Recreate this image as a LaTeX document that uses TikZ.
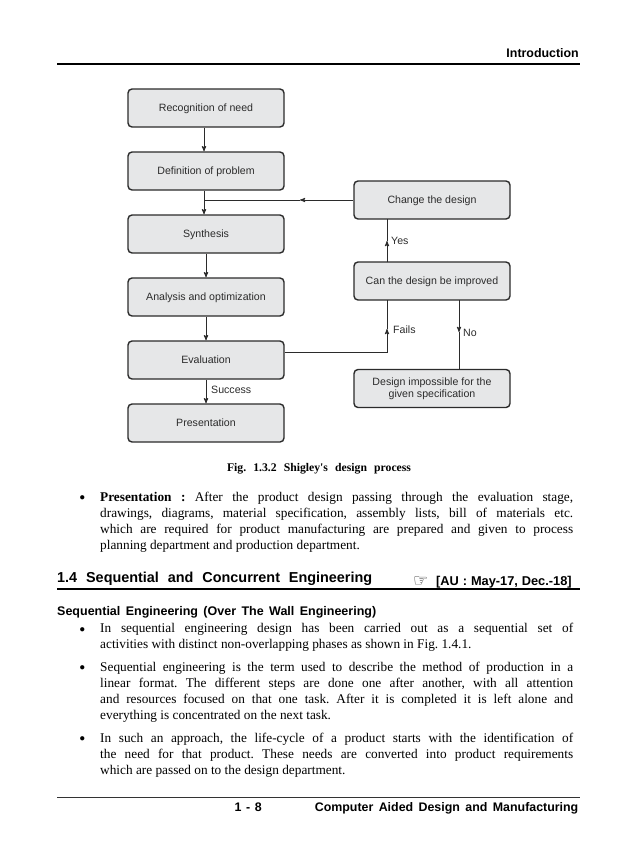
\documentclass[tikz,border=0pt]{standalone}
\usepackage{fontspec}
\setmainfont{Liberation Serif}
\setsansfont{Liberation Sans}
\newfontfamily\symfont{DejaVu Sans}
\usetikzlibrary{arrows}
\definecolor{boxfill}{HTML}{E6E7E8}
\definecolor{ink}{HTML}{2B2B2B}
\newcommand{\jline}[2]{\makebox[#1pt][s]{#2}}
\frenchspacing

\begin{document}
\begin{tikzpicture}[x=1pt,y=-1pt,node distance=63pt,>=stealth']
  \tikzstyle{block}=[rectangle,rounded corners=4pt,line width=1.4pt,draw=ink,fill=boxfill,
  		     text=ink,minimum width=156pt,minimum height=38pt,inner sep=0pt,
  		     font=\sffamily\fontsize{10.6}{12.4}\selectfont,align=center]
  \tikzstyle{one}=[block,text height=6pt,text depth=0pt]
  \tikzstyle{link}=[line width=0.9pt,draw=ink,>=stealth']
  \tikzstyle{tag}=[text=ink,inner sep=0pt,font=\sffamily\fontsize{10.6}{12}\selectfont]
  \tikzstyle{body}=[anchor=base west,inner sep=0pt,font=\fontsize{13.3}{16}\selectfont]
  \tikzstyle{dot}=[anchor=base west,inner sep=0pt,font=\fontsize{10.5}{12}\selectfont]
  \tikzstyle{head}=[anchor=base west,inner sep=0pt,font=\sffamily\bfseries\fontsize{12.4}{14}\selectfont]
  \tikzstyle{rule}=[line width=1.1pt,black]
  \useasboundingbox (0,0) rectangle (638,854);
  % page header
  \node [head,anchor=base east] (header) at (579,57) {Introduction};
  \coordinate (headl) at (57,64);
  \coordinate (headr) at (580,64);
  \draw [rule] (headl) -- (headr);
  % left column
  \node [one] (need) at (206,108) {Recognition of need};
  \node [one] (problem) [below of=need] {Definition of problem};
  \node [one] (synth) [below of=problem] {Synthesis};
  \node [one] (analysis) [below of=synth] {Analysis and optimization};
  \node [one] (eval) [below of=analysis] {Evaluation};
  \node [one] (present) [below of=eval] {Presentation};
  % right column
  \node [one] (change) at (432,200) {Change the design};
  \node [one] (improve) at (432,281) {Can the design be improved};
  \node [block] (imposs) at (432,388.5) {Design impossible for the\\given specification};
  % connectors
  \draw [link,->] ([xshift=-2pt]need.south) -- ([xshift=-2pt]problem.north);
  \draw [link,->] ([xshift=-2pt]problem.south) -- ([xshift=-2pt]synth.north);
  \draw [link,->] (synth) -- (analysis);
  \draw [link,->] (analysis) -- (eval);
  \draw [link,->] (eval) -- (present);
  \coordinate (joint) at (204,200);
  \coordinate (cmid) at (300,200);
  \draw [link,->] (change.west) -- (cmid);
  \draw [link] (cmid) -- (joint);
  \coordinate (ymid) at (387,241);
  \draw [link,->] (387,262) -- (ymid);
  \draw [link] (ymid) -- (387,219);
  \coordinate (fbend) at (387,352.5);
  \coordinate (fmid) at (387,329);
  \draw [link,->] (eval.east |- fbend) -- (fbend) -- (fmid);
  \draw [link] (fmid) -- (387,300);
  \coordinate (nmid) at (459,332);
  \draw [link,->] (459,300) -- (nmid);
  \draw [link] (nmid) -- (459,369);
  % labels
  \node [tag,anchor=west] (yes) at (391,241) {Yes};
  \node [tag,anchor=west] (fails) at (393,330) {Fails};
  \node [tag,anchor=west] (no) at (463,333) {No};
  \node [tag,anchor=west] (success) at (211,389.5) {Success};
  \node [body,anchor=base,font=\bfseries\fontsize{11.7}{14}\selectfont] (caption) at (319,471) {\jline{184}{Fig. 1.3.2 Shigley\textquotesingle s design process}};
  % first list item
  \node [dot] (b1) at (79.5,500) {$\bullet$};
  \node [body] (l1) at (100,501) {\jline{473}{\textbf{Presentation :} After the product design passing through the evaluation stage,}};
  \node [body] (l2) at (100,517) {\jline{473}{drawings, diagrams, material specification, assembly lists, bill of materials etc.}};
  \node [body] (l3) at (100,533) {\jline{473}{which are required for product manufacturing are prepared and given to process}};
  \node [body] (l4) at (100,549) {planning department and production department.};
  % section heading
  \node [head,font=\sffamily\bfseries\fontsize{14.4}{18}\selectfont] (sec) at (57,582) {\jline{315}{1.4 Sequential and Concurrent Engineering}};
  \node [head,font=\fontsize{17}{18}\selectfont\symfont,text=black!85] (hand) at (413,586) {☞};
  \node [head,font=\sffamily\bfseries\fontsize{12.8}{14}\selectfont] (au) at (436,585) {\jline{135.5}{[AU : May-17, Dec.-18]}};
  \coordinate (secl) at (57,589);
  \coordinate (secr) at (580,589);
  \draw [rule] (secl) -- (secr);
  \node [head,font=\sffamily\bfseries\fontsize{12.5}{14}\selectfont] (sub) at (57,615.5) {\jline{319}{Sequential Engineering (Over The Wall Engineering)}};
  % second list item
  \node [dot] (b2) at (79.5,632) {$\bullet$};
  \node [body] (m1) at (100,632.5) {\jline{473}{In sequential engineering design has been carried out as a sequential set of}};
  \node [body] (m2) at (100,648.5) {activities with distinct non-overlapping phases as shown in Fig. 1.4.1.};
  % third list item
  \node [dot] (b3) at (79.5,670) {$\bullet$};
  \node [body] (n1) at (100,671) {\jline{473}{Sequential engineering is the term used to describe the method of production in a}};
  \node [body] (n2) at (100,687) {\jline{473}{linear format. The different steps are done one after another, with all attention}};
  \node [body] (n3) at (100,703) {\jline{473}{and resources focused on that one task. After it is completed it is left alone and}};
  \node [body] (n4) at (100,719) {everything is concentrated on the next task.};
  % fourth list item
  \node [dot] (b4) at (79.5,741) {$\bullet$};
  \node [body] (o1) at (100,742) {\jline{473}{In such an approach, the life-cycle of a product starts with the identification of}};
  \node [body] (o2) at (100,758) {\jline{473}{the need for that product. These needs are converted into product requirements}};
  \node [body] (o3) at (100,774) {which are passed on to the design department.};
  % page footer
  \coordinate (footl) at (57,797);
  \coordinate (footr) at (580,797);
  \draw [line width=0.8pt,black!80] (footl) -- (footr);
  \node [head] (page) at (234.5,811.5) {\jline{27}{1 - 8}};
  \node [head,anchor=base east] (book) at (578.5,811.5) {\jline{263.5}{Computer Aided Design and Manufacturing}};
\end{tikzpicture}
\end{document}
